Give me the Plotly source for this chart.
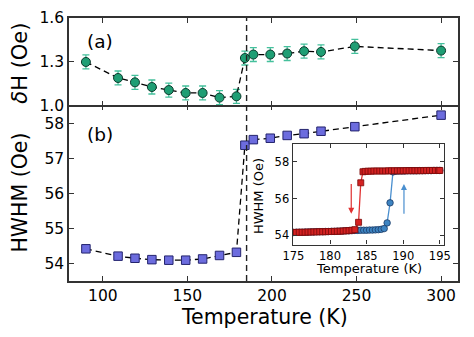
import plotly.graph_objects as go

# ---- main panels data ----
temp_main = [90, 109, 119, 129, 139, 149, 159, 169, 179, 184, 189, 199, 209, 219, 229, 249, 300]
dH = [1.298, 1.188, 1.158, 1.126, 1.105, 1.085, 1.085, 1.053, 1.062, 1.325, 1.349, 1.349, 1.356, 1.372, 1.367, 1.405, 1.376]
dH_err = [0.048] * 17
hwhm = [54.41, 54.20, 54.14, 54.10, 54.085, 54.085, 54.12, 54.22, 54.31, 57.37, 57.53, 57.57, 57.65, 57.70, 57.77, 57.90, 58.23]
transition_T = 185

# ---- inset data ----
red_T = [175.0, 175.4, 175.8, 176.2, 176.6, 177.0, 177.4, 177.8, 178.2, 178.6, 179.0, 179.4,
         179.8, 180.2, 180.6, 181.0, 181.4, 181.8, 182.2, 182.6, 183.0, 183.4,
         183.9, 184.2, 184.5,
         184.8, 185.2, 185.6, 186.0, 186.4, 186.8, 187.2, 187.6, 188.0, 188.4, 188.8, 189.2,
         189.6, 190.0, 190.4, 190.8, 191.2, 191.6, 192.0, 192.4, 192.8, 193.2, 193.6, 194.0,
         194.4, 194.8, 195.0]
red_H = [54.16, 54.16, 54.17, 54.17, 54.17, 54.18, 54.18, 54.19, 54.19, 54.20, 54.20, 54.20,
         54.21, 54.21, 54.22, 54.22, 54.23, 54.24, 54.25, 54.26, 54.28, 54.31,
         54.71, 56.86, 57.46,
         57.48, 57.49, 57.49, 57.50, 57.50, 57.50, 57.50, 57.50, 57.51, 57.51, 57.51, 57.51,
         57.51, 57.51, 57.52, 57.52, 57.52, 57.52, 57.52, 57.52, 57.52, 57.53, 57.53, 57.53,
         57.53, 57.53, 57.53]
blue_T = [175.0, 175.4, 175.8, 176.2, 176.6, 177.0, 177.4, 177.8, 178.2, 178.6, 179.0, 179.4,
          179.8, 180.2, 180.6, 181.0, 181.4, 181.8, 182.2, 182.6, 183.0, 183.4, 183.8,
          184.2, 184.6, 185.0, 185.4, 185.8, 186.2, 186.6, 187.0, 187.4,
          187.8, 188.2, 188.6,
          189.0, 189.4, 189.8, 190.2, 190.6, 191.0, 191.4, 191.8, 192.2, 192.6, 193.0, 193.4,
          193.8, 194.2, 194.6, 195.0]
blue_H = [54.16, 54.17, 54.17, 54.17, 54.18, 54.18, 54.19, 54.19, 54.20, 54.20, 54.20, 54.21,
          54.21, 54.22, 54.22, 54.23, 54.23, 54.24, 54.25, 54.25, 54.26, 54.27, 54.27,
          54.28, 54.28, 54.28, 54.29, 54.29, 54.30, 54.31, 54.33, 54.37,
          54.68, 55.77, 57.45,
          57.49, 57.50, 57.50, 57.50, 57.51, 57.51, 57.51, 57.51, 57.52, 57.52, 57.52, 57.52,
          57.52, 57.53, 57.53, 57.53]

main_xticks = [100, 150, 200, 250, 300]

AX = "#333333"
FONT = "DejaVu Sans"

fig = go.Figure()

fig.add_trace(go.Scatter(
    x=temp_main, y=dH, xaxis="x2", yaxis="y2", mode="lines+markers",
    line=dict(color="black", width=1.3, dash="6px,4px"),
    marker=dict(symbol="circle", size=9, color="#1f9e74", line=dict(color="#0d3a2c", width=1)),
    error_y=dict(type="data", array=dH_err, visible=True, color="#45c09c", thickness=1.3, width=3.5),
    showlegend=False))

fig.add_trace(go.Scatter(
    x=temp_main, y=hwhm, xaxis="x", yaxis="y", mode="lines+markers",
    line=dict(color="black", width=1.3, dash="6px,4px"),
    marker=dict(symbol="square", size=8.5, color="#6c6cde", line=dict(color="#24246e", width=1)),
    showlegend=False))

fig.add_trace(go.Scatter(
    x=blue_T, y=blue_H, xaxis="x3", yaxis="y3", mode="lines+markers",
    line=dict(color="#4a8fcf", width=1.3),
    marker=dict(symbol="circle", size=6.5, color="#3d84c2", line=dict(color="#1b3a66", width=0.8)),
    showlegend=False))

fig.add_trace(go.Scatter(
    x=red_T, y=red_H, xaxis="x3", yaxis="y3", mode="lines+markers",
    line=dict(color="#e03030", width=1.3),
    marker=dict(symbol="square", size=6, color="#d42222", line=dict(color="#7a0a0a", width=0.8)),
    showlegend=False))

tick_common = dict(ticks="inside", tickcolor=AX, ticklen=5, tickwidth=1.2,
                   showgrid=False, zeroline=False,
                   tickfont=dict(family=FONT, size=15.5, color="black"))
line_common = dict(showline=True, linecolor=AX, linewidth=1.5)

split = 177 / 265

inset_common = dict(showline=True, linecolor=AX, linewidth=1.3, mirror="ticks", ticks="inside",
                    tickcolor=AX, ticklen=4, tickwidth=1, showgrid=False, zeroline=False,
                    tickfont=dict(family=FONT, size=11.5, color="black"))

fig.update_layout(
    width=474, height=337,
    margin=dict(l=69, r=9, t=16, b=56),
    paper_bgcolor="white", plot_bgcolor="white",
    font=dict(family=FONT, color="black"),
    xaxis=dict(domain=[0, 1], anchor="y", range=[80, 310], tickvals=main_xticks,
               mirror=False, **line_common, **tick_common),
    yaxis=dict(domain=[0, split], anchor="x", range=[53.49, 58.51], tickvals=[54, 55, 56, 57, 58],
               mirror="ticks", **line_common, **tick_common),
    xaxis2=dict(domain=[0, 1], anchor="y2", range=[80, 310], tickvals=main_xticks,
                showticklabels=False, mirror="ticks", **line_common, **tick_common),
    yaxis2=dict(domain=[split, 1], anchor="x2", range=[1.0, 1.6], tickvals=[1.0, 1.3, 1.6],
                ticktext=["1.0", "1.3", "1.6"], mirror="ticks", **line_common, **tick_common),
    xaxis4=dict(anchor="y", overlaying="x", side="top", range=[80, 310], tickvals=main_xticks,
                showticklabels=False, showline=False, **tick_common),
    xaxis3=dict(domain=[0.575, 0.9646], anchor="y3", range=[174.9, 195.6],
                tickvals=[175, 180, 185, 190, 195], **inset_common),
    yaxis3=dict(domain=[0.1385, 0.5196], anchor="x3", range=[53.5, 58.95], tickvals=[54, 56, 58],
                **inset_common),
)

fig.add_trace(go.Scatter(x=[transition_T], y=[hwhm[0]], xaxis="x4", yaxis="y", mode="markers",
                         marker=dict(opacity=0), hoverinfo="skip", showlegend=False))

fig.add_shape(type="line", xref="x", yref="paper", x0=transition_T, x1=transition_T, y0=0, y1=1,
              line=dict(color="#222222", width=1.4, dash="6px,4px"))

def ann(text, x, y, size, angle=0, xanchor="center"):
    fig.add_annotation(text=text, x=x, y=y, xref="paper", yref="paper", showarrow=False,
                       textangle=angle, xanchor=xanchor, yanchor="middle",
                       font=dict(family=FONT, size=size, color="black"))

ann("Temperature (K)", 0.5025, -0.1358, 20.5)
ann("<i>δ</i>H (Oe)", -0.126, 0.830, 21, angle=-90)
ann("HWHM (Oe)", -0.126, 0.336, 20.5, angle=-90)
ann("(a)", 0.0404, 0.909, 18.5, xanchor="left")
ann("(b)", 0.0404, 0.558, 18.5, xanchor="left")
ann("Temperature (K)", 0.770, 0.046, 13)
ann("HWHM (Oe)", 0.487, 0.3245, 13, angle=-90)

fig.add_annotation(xref="x3", yref="y3", axref="x3", ayref="y3",
                   x=182.9, y=55.18, ax=182.9, ay=56.87, text="", showarrow=True,
                   arrowhead=2, arrowsize=1, arrowwidth=1.2, arrowcolor="#e03030")
fig.add_annotation(xref="x3", yref="y3", axref="x3", ayref="y3",
                   x=190.1, y=56.79, ax=190.1, ay=55.09, text="", showarrow=True,
                   arrowhead=2, arrowsize=1, arrowwidth=1.2, arrowcolor="#4a8fcf")

fig.write_html("out.html")
